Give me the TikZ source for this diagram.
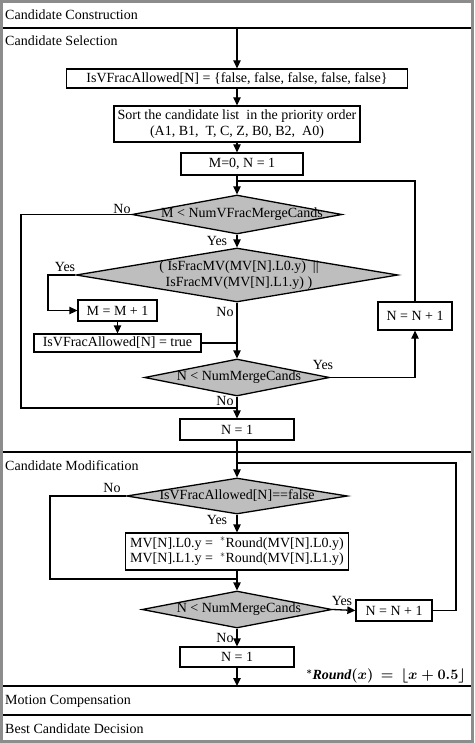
\documentclass[tikz,border=0pt]{standalone}
\usepackage{fontspec}
\setmainfont{Liberation Serif}
\usetikzlibrary{shapes.geometric,arrows.meta}
\newcommand{\roundformula}{{\boldmath$^{*}\mathit{Round}(x)\,=\,\lfloor x+0.5\rfloor$}}
\begin{document}
\begin{tikzpicture}[x=1pt,y=-1pt,
  font=\fontsize{14}{15.5}\selectfont,
  every node/.style={inner sep=0pt},
  conn/.style={line width=1.3pt,black},
  arr/.style={conn,-{Triangle[length=8pt,width=7.5pt]}},
  pbox/.style={draw,line width=1.3pt,fill=white,align=center,minimum width=#1},
  dia/.style={draw,line width=1.3pt,diamond,fill=diagray},
  lbl/.style={font=\fontsize{14}{15.5}\selectfont},
  sect/.style={anchor=west},
  divider/.style={line width=1.2pt,black}]
\definecolor{diagray}{RGB}{190,190,190}
\definecolor{framegray}{RGB}{140,140,140}
\useasboundingbox (0,0) rectangle (474,743);
% frame and dividers
\draw[framegray,line width=3pt] (1.5,1.5) rectangle (472.5,741.5);
\draw[divider] (3,28) -- (471,28);
\draw[divider] (3,452) -- (471,452);
\draw[divider] (3,686) -- (471,686);
\draw[divider] (3,715) -- (471,715);
% section titles
\node[sect] (s1) at (5,15) {Candidate Construction};
\node[sect] (s2) at (5,41) {Candidate Selection};
\node[sect] (s3) at (5,466) {Candidate Modification};
\node[sect] (s4) at (5,701) {Motion Compensation};
\node[sect] (s5) at (5,729) {Best Candidate Decision};
% coordinates
\coordinate (c0) at (237,28);
\coordinate (j1) at (237,181);
\coordinate (l1) at (21,408);
\coordinate (j2) at (237,408);
\coordinate (l2) at (48,310.5);
\coordinate (j3) at (237,343);
\coordinate (r2) at (456,463);
\coordinate (j4) at (237,463);
\coordinate (l4) at (50,579);
\coordinate (j5) at (237,579);
\coordinate (j6) at (237,686);
% boxes
\node[pbox=341,minimum height=19] (b1) at (237,78.5) {IsVFracAllowed[N] = \{false, false, false, false, false\}};
\node[pbox=246,minimum height=36] (b2) at (237,124) {Sort the candidate list\ \ in the priority order\\(A1, B1,\ \ T, C, Z, B0, B2,\ \ A0)};
\node[pbox=122,minimum height=22] (b3) at (242,164) {M=0, N = 1};
\node[dia,minimum width=210,minimum height=39] (d1) at (237,214.5) {};
\node (d1t) at (242,214.5) {M {<} NumVFracMergeCands};
\node[dia,minimum width=322,minimum height=54] (d2) at (237,275) {};
\node[align=center] (d2t) at (239,275) {( IsFracMV(MV[N].L0.y)\ \ ||\\IsFracMV(MV[N].L1.y) )};
\node[pbox=79,minimum height=21] (mm) at (117.5,310.5) {M = M + 1};
\node[pbox=167,minimum height=18] (vt) at (117.5,343) {IsVFracAllowed[N] = true};
\node[pbox=74,minimum height=28] (nn1) at (415,316) {N = N + 1};
\node[dia,minimum width=185,minimum height=37] (d3) at (237,377.5) {};
\node (d3t) at (239,377.5) {N {<} NumMergeCands};
\node[pbox=114,minimum height=21] (n1a) at (237,429.5) {N = 1};
\node[dia,minimum width=221,minimum height=36] (d4) at (237,496) {};
\node (d4t) at (237,496) {IsVFracAllowed[N]==false};
\node[pbox=223,minimum height=37] (mv) at (237,551.5) {MV[N].L0.y =\ \ $^{*}$Round(MV[N].L0.y)\\MV[N].L1.y =\ \ $^{*}$Round(MV[N].L1.y)};
\node[dia,minimum width=190,minimum height=37] (d5) at (237,609.5) {};
\node (d5t) at (239,609.5) {N {<} NumMergeCands};
\node[pbox=76,minimum height=21] (nn2) at (394,610.5) {N = N + 1};
\node[pbox=114,minimum height=20] (n1b) at (237,657) {N = 1};
\node[anchor=east] (rnd) at (466,676) {\roundformula};
% connectors
\draw[arr] (c0) -- (b1.north);
\draw[arr] (b1) -- (b2);
\draw[arr] (b2.south) -- (b2.south |- b3.north);
\draw[arr] (b2.south |- b3.south) -- (d1.north);
\draw[conn] (nn1.north) |- (j1);
\draw[conn] (d1.west) -| (l1) -- (j2);
\draw[arr] (d1.south) -- (d2.north);
\draw[arr] (d2.west) -| (l2) -- (mm.west);
\draw[arr] (mm) -- (vt);
\draw[conn] (vt.east) -- (j3);
\draw[arr] (d2.south) -- (d3.north);
\draw[arr] (d3.east) -| (nn1.south);
\draw[arr] (d3.south) -- (n1a.north);
\draw[arr] (n1a.south) -- (d4.north);
\draw[conn] (nn2.east) -| (r2) -- (j4);
\draw[conn] (d4.west) -| (l4) -- (j5);
\draw[arr] (d4.south) -- (mv.north);
\draw[arr] (mv.south) -- (d5.north);
\draw[arr] (d5.east) -- (nn2.west);
\draw[arr] (d5.south) -- (n1b.north);
\draw[arr] (n1b.south) -- (j6);
% branch labels
\node[lbl] (no1) at (122,209) {No};
\node[lbl] (yes1) at (217,241) {Yes};
\node[lbl] (yes2) at (65,267) {Yes};
\node[lbl] (no2) at (225,312) {No};
\node[lbl] (yes3) at (323,365) {Yes};
\node[lbl] (no3) at (225,401) {No};
\node[lbl] (no4) at (112,488) {No};
\node[lbl] (yes4) at (217,520) {Yes};
\node[lbl] (yes5) at (342,601) {Yes};
\node[lbl] (no5) at (225,638) {No};
\end{tikzpicture}
\end{document}
